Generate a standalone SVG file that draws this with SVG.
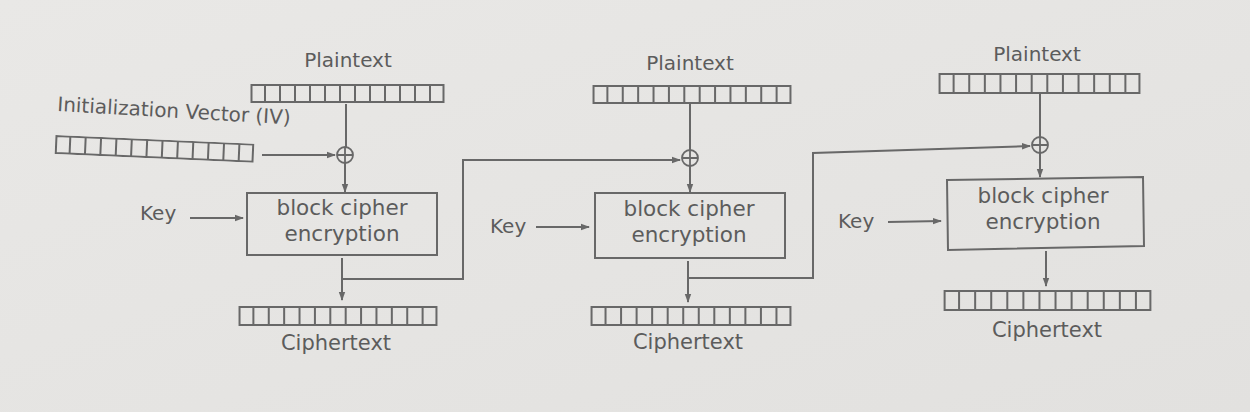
<svg xmlns="http://www.w3.org/2000/svg" xmlns:xlink="http://www.w3.org/1999/xlink" width="1250" height="412" viewBox="0 0 1250 412">
<style>
text{font-family:"DejaVu Sans","Liberation Sans",sans-serif;fill:#5c5c5c;font-size:20px}
.mid{text-anchor:middle}
.bc{font-size:21.5px}
.ct{font-size:21px}
.ln{fill:none;stroke:#686868;stroke-width:2}
.box{fill:none;stroke:#686868;stroke-width:2}
.xor{fill:none;stroke:#686868;stroke-width:1.8}
</style>
<defs>
<linearGradient id="bg" x1="0" y1="0" x2="1" y2="1">
<stop offset="0" stop-color="#e9e8e6"/>
<stop offset="1" stop-color="#e2e1df"/>
</linearGradient>
<marker id="ah" markerWidth="9" markerHeight="8" refX="8" refY="4" orient="auto" markerUnits="userSpaceOnUse">
<path d="M0,0.8 L9,4 L0,7.2 Z" fill="#686868"/>
</marker>
<symbol id="bar" viewBox="0 0 130 20" preserveAspectRatio="none">
<rect x="1" y="1" width="128" height="18" fill="none" stroke="#686868" stroke-width="2" vector-effect="non-scaling-stroke"/>
<path d="M10 1V19M20 1V19M30 1V19M40 1V19M50 1V19M60 1V19M70 1V19M80 1V19M90 1V19M100 1V19M110 1V19M120 1V19" stroke="#686868" stroke-width="2" vector-effect="non-scaling-stroke"/>
</symbol>
</defs>
<rect width="1250" height="412" fill="url(#bg)"/>

<g id="connectors">
<path class="ln" d="M262 155H335" marker-end="url(#ah)"/>
<path class="ln" d="M346 104V147"/>
<path class="ln" d="M345 163V192" marker-end="url(#ah)"/>
<path class="ln" d="M190 218H243" marker-end="url(#ah)"/>
<path class="ln" d="M342 258V300" marker-end="url(#ah)"/>
<path class="ln" d="M342 279H463V160H680" marker-end="url(#ah)"/>
<path class="ln" d="M690 104V150"/>
<path class="ln" d="M690 166V192" marker-end="url(#ah)"/>
<path class="ln" d="M536 227H589" marker-end="url(#ah)"/>
<path class="ln" d="M688 261V302" marker-end="url(#ah)"/>
<path class="ln" d="M688 278H813V153L1030 146" marker-end="url(#ah)"/>
<path class="ln" d="M1040 94V137"/>
<path class="ln" d="M1040 153V177" marker-end="url(#ah)"/>
<path class="ln" d="M888 222L941 221" marker-end="url(#ah)"/>
<path class="ln" d="M1046 251V286" marker-end="url(#ah)"/>
</g>

<g id="iv">
<text x="57" y="111" transform="rotate(3.3 57 111)">Initialization Vector (IV)</text>
<use xlink:href="#bar" x="55" y="135" width="200" height="19" transform="rotate(2.5 55 135)"/>
</g>

<g id="plaintext1">
<text class="mid" x="348" y="67">Plaintext</text>
<use xlink:href="#bar" x="250" y="84" width="195" height="19"/>
</g>
<g id="xor1">
<circle class="xor" cx="345" cy="155" r="8"/>
<path class="xor" d="M337 155H353M345 147V163"/>
</g>
<g id="key1"><text x="140" y="220">Key</text></g>
<g id="cipher1">
<rect class="box" x="247" y="193" width="190" height="62"/>
<text class="mid bc" x="342" y="215">block cipher</text>
<text class="mid bc" x="342" y="241">encryption</text>
</g>
<g id="ciphertext1">
<use xlink:href="#bar" x="238" y="306" width="200" height="20"/>
<text class="mid ct" x="336" y="350">Ciphertext</text>
</g>

<g id="plaintext2">
<text class="mid" x="690" y="70">Plaintext</text>
<use xlink:href="#bar" x="592" y="85" width="200" height="19"/>
</g>
<g id="xor2">
<circle class="xor" cx="690" cy="158" r="8"/>
<path class="xor" d="M682 158H698M690 150V166"/>
</g>
<g id="key2"><text x="490" y="233">Key</text></g>
<g id="cipher2">
<rect class="box" x="595" y="193" width="190" height="65"/>
<text class="mid bc" x="689" y="216">block cipher</text>
<text class="mid bc" x="689" y="242">encryption</text>
</g>
<g id="ciphertext2">
<use xlink:href="#bar" x="590" y="306" width="202" height="20"/>
<text class="mid ct" x="688" y="349">Ciphertext</text>
</g>

<g id="plaintext3">
<text class="mid" x="1037" y="61">Plaintext</text>
<use xlink:href="#bar" x="938" y="73" width="203" height="21"/>
</g>
<g id="xor3">
<circle class="xor" cx="1040" cy="145" r="8"/>
<path class="xor" d="M1032 145H1048M1040 137V153"/>
</g>
<g id="key3"><text x="838" y="228">Key</text></g>
<g id="cipher3">
<path class="box" d="M947 180L1143 177L1144 246L948 250Z"/>
<text class="mid bc" x="1043" y="203">block cipher</text>
<text class="mid bc" x="1043" y="229">encryption</text>
</g>
<g id="ciphertext3">
<use xlink:href="#bar" x="943" y="290" width="209" height="21"/>
<text class="mid ct" x="1047" y="337">Ciphertext</text>
</g>
</svg>
